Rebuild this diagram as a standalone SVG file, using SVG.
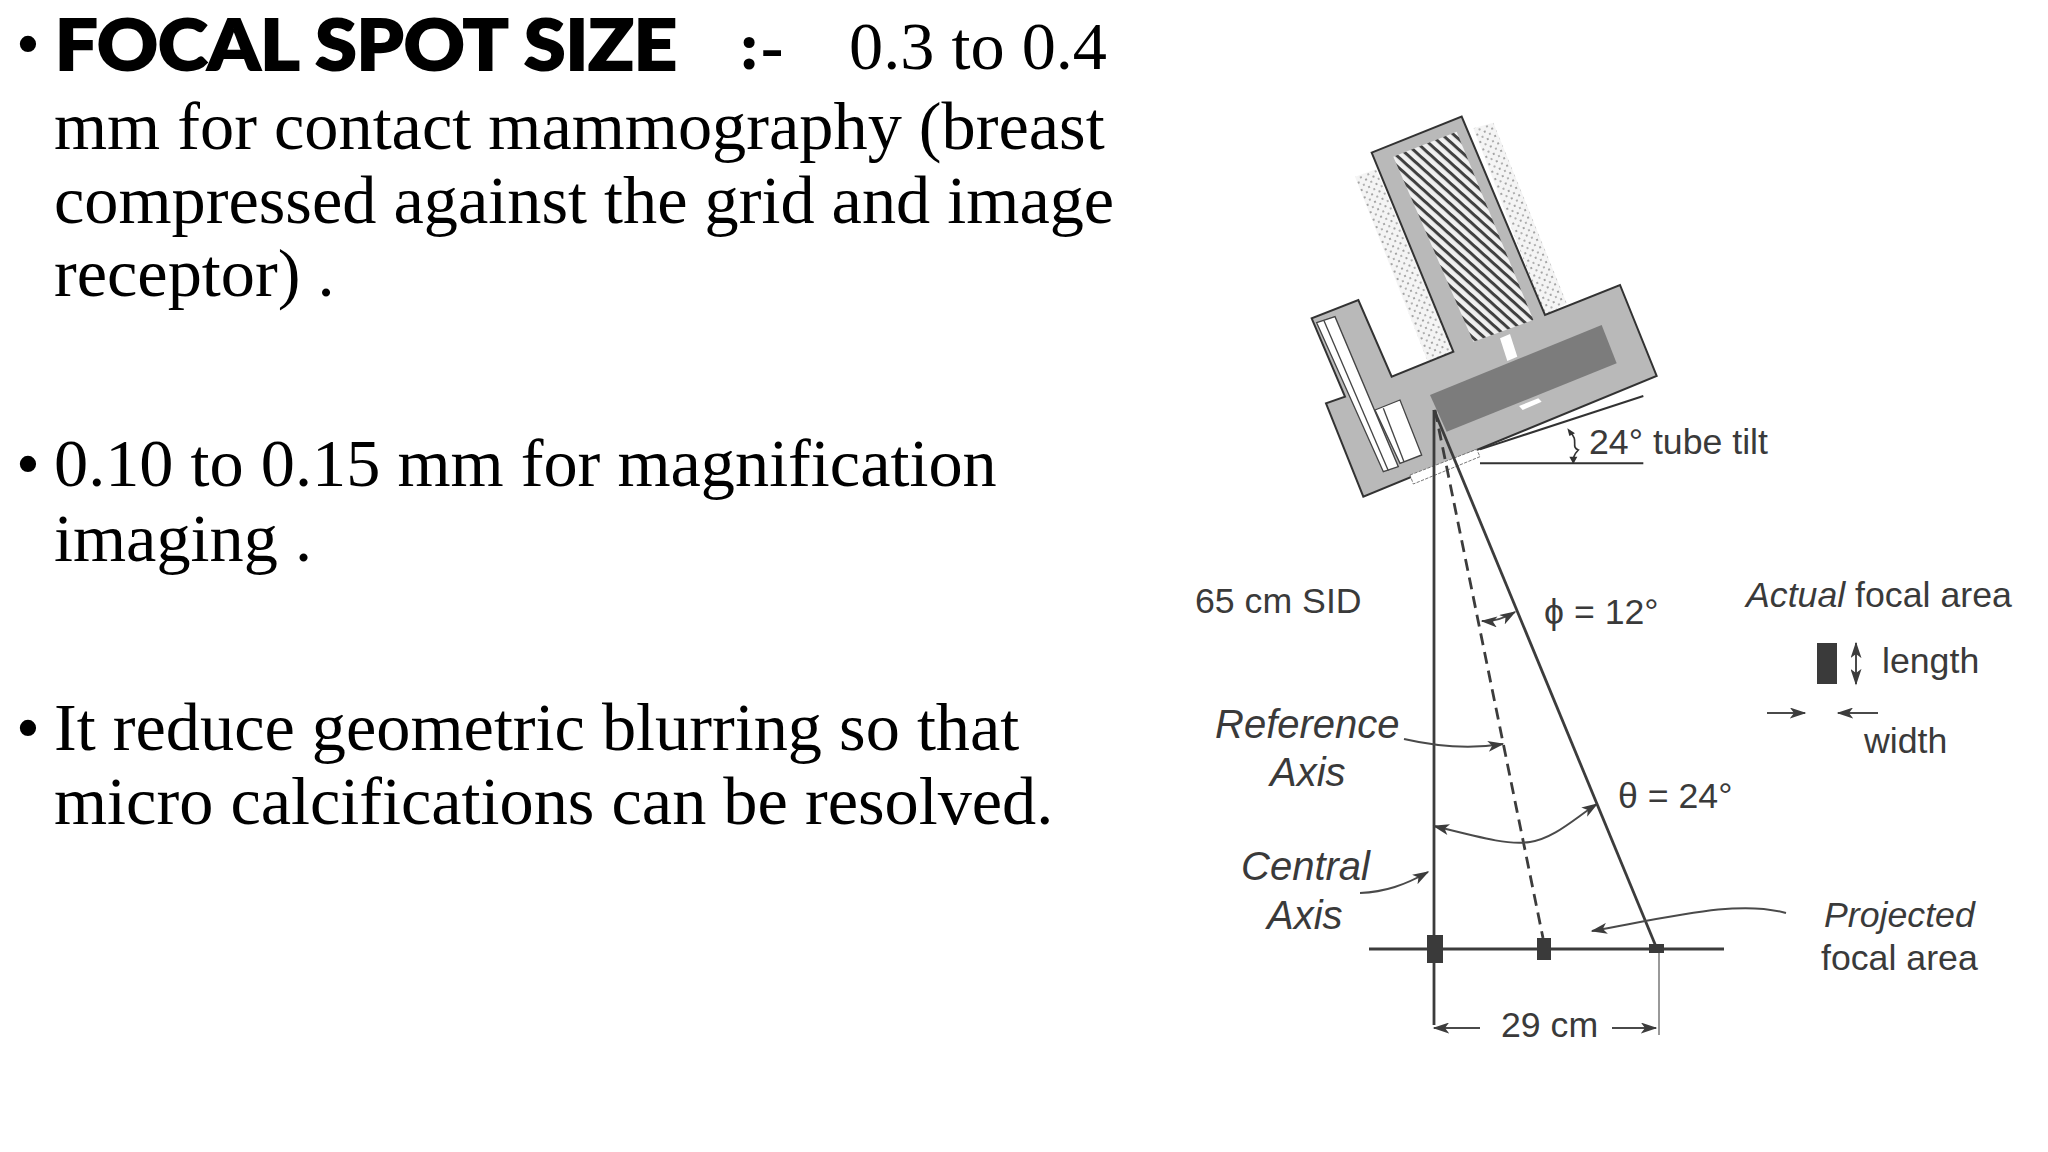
<svg xmlns="http://www.w3.org/2000/svg" width="2048" height="1152" viewBox="0 0 2048 1152">
<style>
.body{font-family:"Liberation Serif","Times New Roman",serif;font-size:68.3px;fill:#000}
.head{font-family:Lato,"Liberation Sans",sans-serif;font-weight:900;font-size:70px;fill:#000;stroke:#000;stroke-width:2}
.lab{font-family:"Liberation Sans",Arial,sans-serif;font-size:35.7px;fill:#3a3a3a}
.big{font-size:40px}
.it{font-style:italic}
.ln{fill:none;stroke:#3c3c3c;stroke-width:2.8}
.th{fill:none;stroke:#4a4a4a;stroke-width:2}
.mk{fill:#3a3a3a}
.out{stroke:#333;stroke-width:6;stroke-linejoin:miter}
</style>
<defs>
<marker id="a" viewBox="0 0 12 8" refX="11" refY="4" markerWidth="17" markerHeight="11" markerUnits="userSpaceOnUse" orient="auto-start-reverse"><path d="M0 0L12 4L0 8L3 4Z" fill="#3c3c3c"/></marker>
<pattern id="dots" width="24" height="24" patternUnits="userSpaceOnUse" patternTransform="rotate(-22)"><rect width="24" height="24" fill="#f4f4f4"/><circle cx="6" cy="6" r="3" fill="#8a8a8a"/><circle cx="18" cy="18" r="3" fill="#9a9a9a"/></pattern>
<pattern id="hatch" width="23" height="23" patternUnits="userSpaceOnUse" patternTransform="rotate(42)"><rect width="23" height="23" fill="#f0f0f0"/><rect width="23" height="9" fill="#3f3f3f"/></pattern>
<filter id="soft" x="-5%" y="-5%" width="110%" height="110%"><feGaussianBlur stdDeviation="1.6"/></filter>
</defs>
<rect width="2048" height="1152" fill="#fff"/>
<g id="text-left">
<text class="body" x="16" y="66">•</text>
<text class="head" x="55" y="70" textLength="622" lengthAdjust="spacingAndGlyphs">FOCAL SPOT SIZE</text>
<text class="body" x="738" y="69" font-weight="700">:-</text>
<text class="body" x="849" y="69">0.3 to 0.4</text>
<text class="body" x="54" y="149">mm for contact mammography (breast</text>
<text class="body" x="54" y="223">compressed against the grid and image</text>
<text class="body" x="54" y="296">receptor) .</text>
<text class="body" x="16" y="486">•</text>
<text class="body" x="54" y="486">0.10 to 0.15 mm for magnification</text>
<text class="body" x="54" y="561">imaging .</text>
<text class="body" x="16" y="750">•</text>
<text class="body" x="54" y="750">It reduce geometric blurring so that</text>
<text class="body" x="54" y="824">micro calcifications can be resolved.</text>
</g>
<g id="tube" transform="translate(1280 100) scale(.33333)" filter="url(#soft)">
<path d="M225 230L288 208L520 755L442 782Z" fill="url(#dots)"/>
<path d="M580 85L640 68L860 610L795 645Z" fill="url(#dots)"/>
<path class="out" fill="#b9b9b9" d="M275 158L545 50L795 645L1020 555L1130 828L250 1190L138 910L195 890L95 655L235 600L335 830L520 755Z"/>
<path d="M340 170L530 95L760 660L580 725Z" fill="url(#hatch)"/>
<path d="M450 885L965 675L1010 790L500 995Z" fill="#7c7c7c"/>
<path d="M660 715L690 702L712 770L682 783Z" fill="#fff"/>
<path d="M717 918L775 895L785 905L728 930Z" fill="#fff"/>
<path d="M110 668L165 650L355 1100L310 1115Z" fill="#fff" stroke="#444" stroke-width="4"/>
<path d="M285 930L360 900L425 1065L360 1090Z" fill="#fff" stroke="#444" stroke-width="4"/>
<path d="M132 662L325 1112" stroke="#444" stroke-width="4" fill="none"/>
<path d="M310 925L372 1085" stroke="#444" stroke-width="4" fill="none"/>
<path d="M390 1125L590 1048L600 1070L400 1152Z" fill="#fff" stroke="#777" stroke-width="3" stroke-dasharray="10 4"/>
<path d="M600 1048L1090 888M600 1090L1090 1090" stroke="#333" stroke-width="6" fill="none"/>
<path d="M868 995C900 1020 870 1040 895 1050C880 1065 880 1075 880 1088" stroke="#333" stroke-width="5" fill="none"/>
<path d="M862 985L885 1000L868 1008ZM880 1092L868 1070L892 1070Z" fill="#333"/>
</g>
<g id="connectors">
<path class="ln" d="M1434 410V1025"/>
<path class="ln" d="M1434 410L1657 949"/>
<path class="ln" d="M1435 410L1543 938" stroke-dasharray="12 7"/>
<path class="ln" d="M1369 949H1724"/>
<path d="M1659 953V1035" stroke="#999" stroke-width="2" fill="none"/>
<path class="th" d="M1434 1028H1480" marker-start="url(#a)"/>
<path class="th" d="M1612 1028H1656" marker-end="url(#a)"/>
<path class="th" d="M1404 739C1430 745 1465 750 1503 744" marker-end="url(#a)"/>
<path class="th" d="M1434 826C1490 840 1510 845 1530 842C1555 838 1575 818 1597 804" marker-start="url(#a)" marker-end="url(#a)"/>
<path class="th" d="M1482 621Q1498 622 1515 612" marker-start="url(#a)" marker-end="url(#a)"/>
<path class="th" d="M1360 893C1385 892 1405 885 1428 872" marker-end="url(#a)"/>
<path class="th" d="M1786 913C1740 900 1680 915 1592 931" marker-end="url(#a)"/>
<path class="th" d="M1856 643V684" marker-start="url(#a)" marker-end="url(#a)"/>
<path class="th" d="M1767 713H1805" marker-end="url(#a)"/>
<path class="th" d="M1878 713H1838" marker-end="url(#a)"/>
</g>
<g id="focal-marks">
<rect class="mk" x="1427" y="935" width="16" height="28"/>
<rect class="mk" x="1537" y="938" width="14" height="22"/>
<rect class="mk" x="1649" y="944" width="15" height="9"/>
<rect class="mk" x="1817" y="643" width="20" height="41"/>
</g>
<g id="labels">
<text class="lab" x="1589" y="454">24° tube tilt</text>
<text class="lab" x="1195" y="613">65 cm SID</text>
<text class="lab" x="1544" y="624">ϕ = 12°</text>
<text class="lab it" x="1746" y="607">Actual<tspan font-style="normal"> focal area</tspan></text>
<text class="lab" x="1882" y="673">length</text>
<text class="lab" x="1864" y="753">width</text>
<text class="lab" x="1618" y="808">θ = 24°</text>
<text class="lab big it" x="1215" y="738">Reference</text>
<text class="lab big it" x="1270" y="786">Axis</text>
<text class="lab big it" x="1241" y="880">Central</text>
<text class="lab big it" x="1267" y="929">Axis</text>
<text class="lab it" x="1824" y="927">Projected</text>
<text class="lab" x="1821" y="970">focal area</text>
<text class="lab" x="1501" y="1037">29 cm</text>
</g>
</svg>
